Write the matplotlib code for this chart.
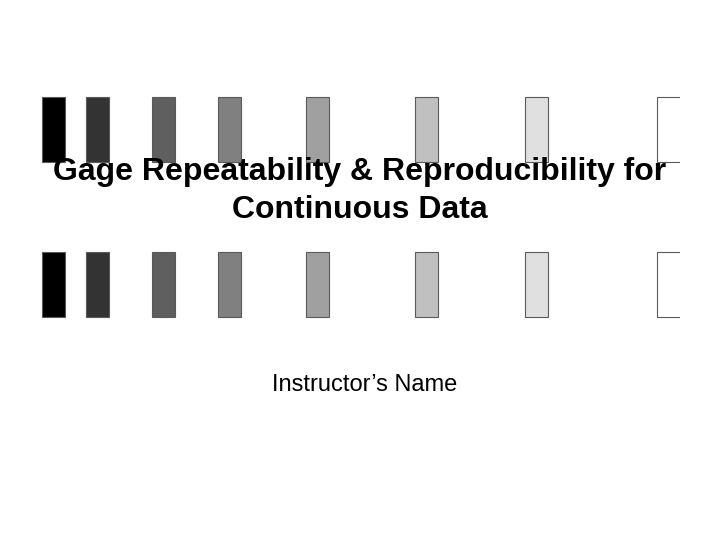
import matplotlib
matplotlib.use("Agg")
import matplotlib.pyplot as plt
from matplotlib.patches import Rectangle

# grey shades of the bar pattern, left to right
shades = ["#000000", "#333333", "#5f5f5f", "#808080", "#a0a0a0", "#c0c0c0", "#e0e0e0", "#ffffff"]
title = "Gage Repeatability & Reproducibility for\nContinuous Data"
subtitle = "Instructor\u2019s Name"

# layout in pixel units (720 x 540 slide)
bar_left = [42, 86, 152, 218, 306, 415, 525, 657]
bar_w = [22.5] * 7 + [35]   # last bar runs off the clipped edge
rows = [(96.5, 161.5), (252, 317)]

fig = plt.figure(figsize=(7.2, 5.4), dpi=100)
ax = fig.add_axes([0, 0, 1, 1])
ax.set_xlim(0, 720)
ax.set_ylim(540, 0)
ax.axis("off")

clip = Rectangle((0, 0), 679.5, 540, transform=ax.transData)
for top, bottom in rows:
    bars = ax.bar(bar_left, bottom - top, width=bar_w, bottom=top, align="edge",
                  color=shades, edgecolor="#5a5a5a", linewidth=0.8)
    for b in bars:
        b.set_clip_path(clip)

ax.text(360, 191, title, ha="center", va="center", fontsize=23,
        fontweight="bold", family="Liberation Sans", linespacing=1.35)
ax.text(365, 385, subtitle, ha="center", va="center", fontsize=17,
        family="Liberation Sans")

fig.savefig("out.png", dpi=100)
